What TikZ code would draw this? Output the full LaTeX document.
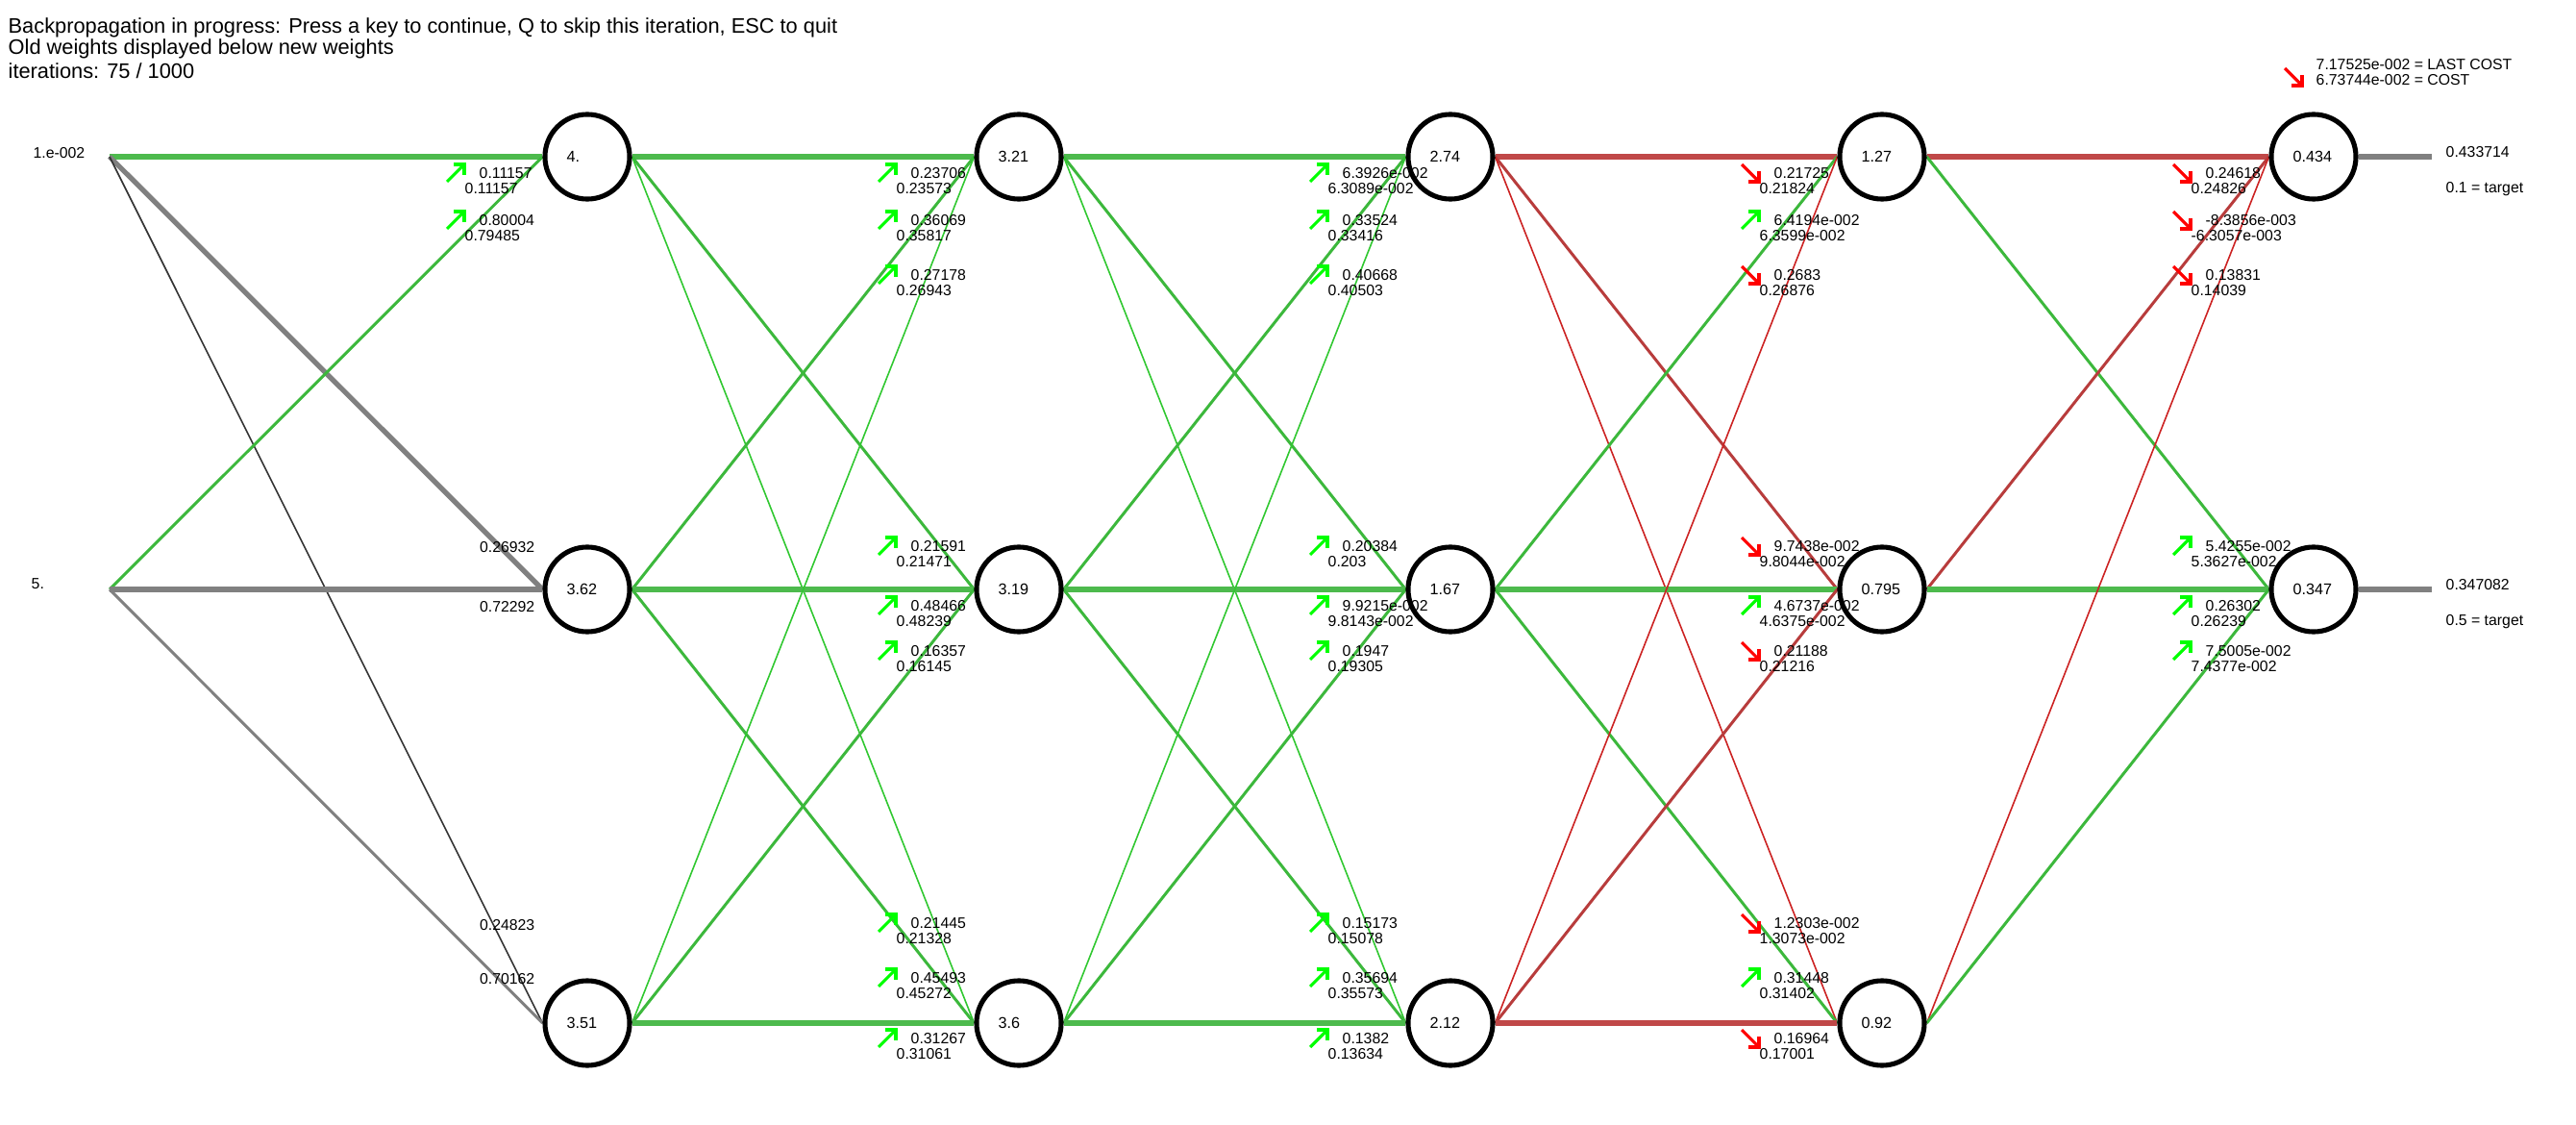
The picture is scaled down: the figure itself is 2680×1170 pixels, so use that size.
\documentclass[tikz,border=0pt]{standalone}
\usepackage{fontspec}
\setmainfont{Liberation Sans}
\usetikzlibrary{calc,backgrounds}
\definecolor{gthick}{HTML}{4DBA4D}
\definecolor{gmed}{HTML}{3CB83C}
\definecolor{gthin}{HTML}{30C830}
\definecolor{rthick}{HTML}{C04848}
\definecolor{rmed}{HTML}{B83C3C}
\definecolor{rthin}{HTML}{CC2222}
\definecolor{garrc}{HTML}{00FF00}
\definecolor{rarrc}{HTML}{FF0000}
\tikzset{
 neuron/.style={circle,draw=black,line width=1.45pt,minimum size=0.88cm,inner sep=0pt,fill=white},
 nval/.style={anchor=west,font=\fontsize{4.6}{5}\selectfont,inner sep=0pt},
 lab/.style={anchor=west,font=\fontsize{4.5}{5}\selectfont,inner sep=0pt},
 rlab/.style={anchor=east,font=\fontsize{4.5}{5}\selectfont,inner sep=0pt},
 ttl/.style={anchor=west,font=\fontsize{6.2}{7}\selectfont,inner sep=0pt},
 thickG/.style={gthick,line width=1.7pt},
 medG/.style={gmed,line width=0.85pt},
 thinG/.style={gthin,line width=0.45pt},
 thickR/.style={rthick,line width=1.7pt},
 medR/.style={rmed,line width=0.85pt},
 thinR/.style={rthin,line width=0.45pt},
 thickK/.style={gray,line width=1.5pt},
 medK/.style={gray,line width=0.85pt},
 thinK/.style={black!80,line width=0.45pt},
 garr/.style={garrc,line width=0.9pt},
 rarr/.style={rarrc,line width=0.9pt},
}
\newcommand\ga[1]{\draw[garr] ($#1+(-9,9)$) -- ($#1+(9,-9)$); \draw[garr] ($#1+(-2,-9)$) -- ($#1+(9,-9)$) -- ($#1+(9,2)$);}
\newcommand\ra[1]{\draw[rarr] ($#1+(-9,-9)$) -- ($#1+(9,9)$); \draw[rarr] ($#1+(-2,9)$) -- ($#1+(9,9)$) -- ($#1+(9,-2)$);}
\newcommand\wlg[4]{\ga{($(#1)+(-137,#2)$)}
 \node[lab] at ($(#1)+(-113,#2)$) {#3};
 \node[lab] at ($(#1)+(-128,#2+16)$) {#4};}
\newcommand\wlr[4]{\ra{($(#1)+(-137,#2)$)}
 \node[lab] at ($(#1)+(-113,#2)$) {#3};
 \node[lab] at ($(#1)+(-128,#2+16)$) {#4};}
\begin{document}
\begin{tikzpicture}[x=0.01cm,y=-0.01cm]
\useasboundingbox (0,0) rectangle (2680,1170);
% nodes
\coordinate (i1) at (114,163);
\coordinate (i2) at (114,613);
\foreach \n/\x/\y in {a1/611/163,a2/611/613,a3/611/1064,b1/1060/163,b2/1060/613,b3/1060/1064,c1/1509/163,c2/1509/613,c3/1509/1064,d1/1958/163,d2/1958/613,d3/1958/1064,e1/2407/163,e2/2407/613}
  \node[neuron] (\n) at (\x,\y) {};
\foreach \n/\v in {a1/4.,a2/3.62,a3/3.51,b1/3.21,b2/3.19,b3/3.6,c1/2.74,c2/1.67,c3/2.12,d1/1.27,d2/0.795,d3/0.92,e1/0.434,e2/0.347}
  \node[nval] at ($(\n)+(-22,0)$) {\v};
\coordinate (o1) at (2530,163);
\coordinate (o2) at (2530,613);
\begin{scope}[on background layer]
\fill[white] (0,0) rectangle (2680,1170);
\draw[thickG] (i1) -- (a1.west);
\draw[thickK] (i1) -- (a2.west);
\draw[thinK] (i1) -- (a3.west);
\draw[medG] (i2) -- (a1.west);
\draw[thickK] (i2) -- (a2.west);
\draw[medK] (i2) -- (a3.west);
\foreach \s/\t in {a/b,b/c}{
 \draw[thickG] (\s1.east) -- (\t1.west);
 \draw[medG] (\s1.east) -- (\t2.west);
 \draw[thinG] (\s1.east) -- (\t3.west);
 \draw[medG] (\s2.east) -- (\t1.west);
 \draw[thickG] (\s2.east) -- (\t2.west);
 \draw[medG] (\s2.east) -- (\t3.west);
 \draw[thinG] (\s3.east) -- (\t1.west);
 \draw[medG] (\s3.east) -- (\t2.west);
 \draw[thickG] (\s3.east) -- (\t3.west);
}
\draw[thickR] (c1.east) -- (d1.west);
\draw[medR] (c1.east) -- (d2.west);
\draw[thinR] (c1.east) -- (d3.west);
\draw[medG] (c2.east) -- (d1.west);
\draw[thickG] (c2.east) -- (d2.west);
\draw[medG] (c2.east) -- (d3.west);
\draw[thinR] (c3.east) -- (d1.west);
\draw[medR] (c3.east) -- (d2.west);
\draw[thickR] (c3.east) -- (d3.west);
\draw[thickR] (d1.east) -- (e1.west);
\draw[medG] (d1.east) -- (e2.west);
\draw[medR] (d2.east) -- (e1.west);
\draw[thickG] (d2.east) -- (e2.west);
\draw[thinR] (d3.east) -- (e1.west);
\draw[medG] (d3.east) -- (e2.west);
\draw[thickK] (e1.east) -- (o1);
\draw[thickK] (e2.east) -- (o2);
\end{scope}
% title
\node[ttl] (t1) at (8,29) {Backpropagation in progress: Press a key to continue, Q to skip this iteration, ESC to quit};
\node[ttl] (t2) at (8,51) {Old weights displayed below new weights};
\node[ttl] (t3) at (8,74) {iterations: 75 / 1000};
% inputs / outputs
\node[rlab] (in1) at (89,159) {1.e-002};
\node[lab] (in2) at (32,607) {5.};
\node[lab] (out1) at (2544,158) {0.433714};
\node[lab] (tg1) at (2544,197) {0.1 = target};
\node[lab] (out2) at (2544,608) {0.347082};
\node[lab] (tg2) at (2544,647) {0.5 = target};
\node[lab] (lc) at (2409,67) {7.17525e-002 = LAST COST};
\node[lab] (cc) at (2409,83) {6.73744e-002 = COST};
\ra{(2386,80)}
% layer 1 weights
\wlg{a1}{17}{0.11157}{0.11157}
\wlg{a1}{66}{0.80004}{0.79485}
\node[rlab] at (557,569) {0.26932};
\node[rlab] at (557,631) {0.72292};
\node[rlab] at (557,962) {0.24823};
\node[rlab] at (557,1018) {0.70162};
% layer 2
\wlg{b1}{17}{0.23706}{0.23573}
\wlg{b1}{66}{0.36069}{0.35817}
\wlg{b1}{123}{0.27178}{0.26943}
\wlg{b2}{-45}{0.21591}{0.21471}
\wlg{b2}{17}{0.48466}{0.48239}
\wlg{b2}{64}{0.16357}{0.16145}
\wlg{b3}{-104}{0.21445}{0.21328}
\wlg{b3}{-47}{0.45493}{0.45272}
\wlg{b3}{16}{0.31267}{0.31061}
% layer 3
\wlg{c1}{17}{6.3926e-002}{6.3089e-002}
\wlg{c1}{66}{0.33524}{0.33416}
\wlg{c1}{123}{0.40668}{0.40503}
\wlg{c2}{-45}{0.20384}{0.203}
\wlg{c2}{17}{9.9215e-002}{9.8143e-002}
\wlg{c2}{64}{0.1947}{0.19305}
\wlg{c3}{-104}{0.15173}{0.15078}
\wlg{c3}{-47}{0.35694}{0.35573}
\wlg{c3}{16}{0.1382}{0.13634}
% layer 4
\wlr{d1}{17}{0.21725}{0.21824}
\wlg{d1}{66}{6.4194e-002}{6.3599e-002}
\wlr{d1}{123}{0.2683}{0.26876}
\wlr{d2}{-45}{9.7438e-002}{9.8044e-002}
\wlg{d2}{17}{4.6737e-002}{4.6375e-002}
\wlr{d2}{64}{0.21188}{0.21216}
\wlr{d3}{-104}{1.2303e-002}{1.3073e-002}
\wlg{d3}{-47}{0.31448}{0.31402}
\wlr{d3}{16}{0.16964}{0.17001}
% layer 5
\wlr{e1}{17}{0.24618}{0.24826}
\wlr{e1}{66}{-8.3856e-003}{-6.3057e-003}
\wlr{e1}{123}{0.13831}{0.14039}
\wlg{e2}{-45}{5.4255e-002}{5.3627e-002}
\wlg{e2}{17}{0.26302}{0.26239}
\wlg{e2}{64}{7.5005e-002}{7.4377e-002}
\end{tikzpicture}
\end{document}
